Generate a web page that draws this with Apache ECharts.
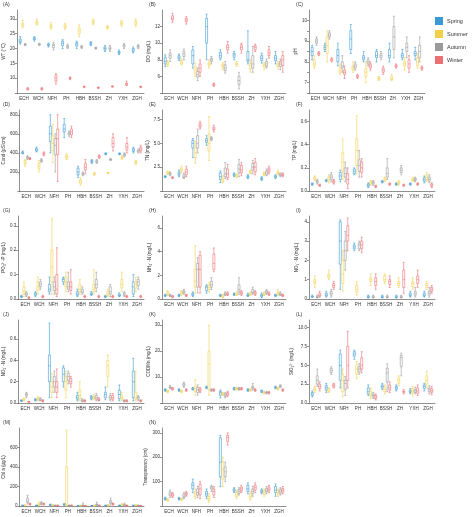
<!DOCTYPE html>
<html><head><meta charset="utf-8">
<script src="https://cdn.jsdelivr.net/npm/echarts@6/dist/echarts.min.js"></script>
<style>html,body{margin:0;padding:0;background:#fff;overflow:hidden}#c{width:474px;height:517px}</style>
</head><body><div id="c"></div>
<script>
const sites=["ECH","WCH","NFH","PH","HBH","BSSH","ZH","YXH","ZGH"];
const seasons=["Spring","Summer","Autumn","Winter"];
const seasonColors=["#3A9AD6","#F2D04A","#9A9A9A","#EE6F73"];
const panelLetters=["A","B","C","D","E","F","G","H","I","J","K","L","M","N"];
const yNames=["WT (°C)","DO (mg/L)","pH","Cond (μS/cm)","TN (mg/L)","TP (mg/L)","PO₄³⁻-P (mg/L)","NH₄⁺-N (mg/L)","NO₃⁻-N (mg/L)","NO₂⁻-N (mg/L)","CODMn (mg/L)","SiO₃²⁻ (mg/L)","Chl a (μg/L)","Transparency (cm)"];
const yMin=[5,4,6.5,0,0,0,0,0,0,0,0,0,0,0];
const yMax=[33,14,10.5,850,8.5,0.7,0.34,7,4.3,0.78,32,11,800,320];
const yInt=[5,2,0.5,200,2.5,0.2,0.1,2,1,0.2,10,2.5,200,100];
const yIntOnly=[false,false,true,false,false,false,false,false,false,false,false,false,false,false];
const yDecimals=[0,0,0,0,1,1,1,0,0,1,0,1,0,0];
const yHideMin=[true,true,false,true,true,false,false,false,false,false,true,false,false,true];

const A_Sp=[[21.5,22,22.5,23.2,24],[22.5,23,23.3,23.7,24],[20.5,21,21.2,21.5,21.8],[20,21,21.8,22.5,23],[20,20.8,21.5,22,22.5],[21,21.3,21.8,22,22.3],[19,19.5,20,20.5,21],[18,18.3,18.7,19,19.5],[18.5,19,19.5,20,20.5]];
const A_Su=[[27,27.5,28,28.5,29.5],[28,28.3,28.8,29.3,30],[26.5,27,27.5,28,28.8],[26.5,27,27.5,28,28.5],[24,25,26,27,28],[28,28.5,29,29.5,30],[26.5,27,27.2,27.5,27.8],[27.5,28,28.5,29,29.5],[27.5,28,28.7,29.3,30]];
const A_Au=[[21,21.2,21.3,21.5,21.7],[21,21.2,21.4,21.6,21.8],[19.5,20.3,21,21.5,22],[20,20.3,20.7,21,21.5],[20,20.3,20.5,20.8,21],[19.8,20,20.2,20.3,20.5],[19,19.5,20,20.5,21],[20,20.5,21,21.3,21.7],[20,20.3,20.7,21,21.3]];
const A_Wi=[[6,6.2,6.4,6.6,6.8],[6,6.2,6.4,6.6,6.8],[8,9,10,11,11.5],[9.5,9.8,10,10.2,10.4],[6.8,7,7.1,7.2,7.3],[6.5,6.7,6.8,6.9,7],[7,7.1,7.2,7.3,7.4],[7.5,7.7,8,8.3,9],[6.8,7,7.1,7.2,7.3]];
const B_Sp=[[7.2,7.5,7.8,8.3,8.6],[7.9,8.1,8.3,8.5,8.7],[7,7.5,8.5,9.2,9.6],[8,10,12,13,13.5],[8,8.2,8.5,8.9,9.2],[8,8.3,8.6,8.8,9],[7.5,7.8,8,9,11.5],[7.6,7.9,8.2,8.5,8.8],[7.5,7.9,8.2,8.5,9]];
const B_Su=[[7.2,7.4,7.5,7.7,7.9],[7.4,7.5,7.7,7.9,8.1],[6,6.4,6.8,7.2,7.6],[7,7.3,7.5,7.7,8],[6.8,7.1,7.3,7.5,7.7],[7.2,7.4,7.5,7.6,7.8],[6.5,6.9,7.3,7.6,8],[6.8,7.1,7.3,7.5,7.7],[6.9,7.2,7.4,7.6,7.8]];
const B_Au=[[7.8,8.2,8.5,8.8,9.2],[8,8.4,8.7,9,9.3],[5.5,5.9,6.2,6.6,7],[7.5,7.8,8,8.2,8.4],[6.4,6.7,7,7.4,7.8],[4.5,5,5.5,6,6.5],[6.5,7,7.5,8.5,9.6],[7,7.2,7.5,7.8,8.1],[6.8,7.2,7.5,7.8,8.1]];
const B_Wi=[[12.5,12.8,13,13.3,13.6],[12.3,12.6,12.8,13,13.2],[6,6.5,7,7.5,8],[4.8,4.9,5,5.1,5.2],[8.8,9.2,9.5,9.8,10.2],[8.8,9.2,9.5,9.8,10],[9,9.2,9.5,9.7,9.9],[8.2,8.5,8.8,9.2,9.6],[6.5,7.3,8,8.5,9]];
const C_Sp=[[8.1,8.3,8.5,8.7,8.8],[8.5,8.6,8.7,8.8,8.9],[7.8,8,8.3,8.6,8.9],[8.4,8.6,9.1,9.5,9.8],[8,8.1,8.2,8.3,8.5],[8,8.2,8.3,8.5,8.6],[8,8.2,8.3,8.6,8.9],[8.1,8.2,8.3,8.4,8.6],[8.1,8.3,8.4,8.5,8.7]];
const C_Su=[[7.7,7.8,7.9,8.1,8.3],[8,8.4,8.8,9.2,9.5],[7.4,7.5,7.6,7.7,7.9],[7.5,7.6,7.7,7.8,8],[7,7.3,7.5,7.7,8],[7.1,7.15,7.2,7.25,7.3],[7.1,7.15,7.2,7.3,7.4],[7.6,7.8,7.9,8,8.2],[7.7,7.8,8,8.2,8.4]];
const C_Au=[[8.8,8.9,9,9.1,9.2],[9.1,9.2,9.3,9.4,9.5],[7.5,7.7,7.8,8,8.3],[7.6,7.7,7.8,7.9,8],[7.8,7.9,8,8.1,8.2],[8.1,8.2,8.3,8.4,8.5],[8.2,8.6,9.2,9.7,10.2],[8.2,8.5,8.7,8.9,9.2],[8,8.2,8.5,8.8,9.2]];
const C_Wi=[[8.3,8.35,8.4,8.45,8.5],[8,8.05,8.1,8.15,8.2],[7.2,7.4,7.5,7.6,7.8],[7.2,7.25,7.3,7.35,7.4],[7.6,7.7,7.8,7.9,8],[7.4,7.5,7.6,7.7,7.8],[7.7,7.75,7.8,7.85,7.9],[7.5,7.7,7.9,8.1,8.3],[7.6,7.65,7.7,7.75,7.8]];
const D_Sp=[[390,395,400,410,420],[410,420,430,445,460],[400,520,600,680,800],[560,620,650,700,760],[140,170,200,240,260],[290,300,310,320,330],[380,385,390,395,400],[380,385,390,395,400],[400,415,430,445,460]];
const D_Su=[[260,280,300,320,330],[200,230,260,290,320],[300,420,500,580,700],[330,345,360,375,390],[60,80,100,120,140],[165,175,180,185,195],[185,188,190,192,195],[330,340,350,360,370],[280,290,300,310,320]];
const D_Au=[[330,340,350,360,370],[300,310,320,330,340],[200,380,480,550,600],[570,590,600,615,630],[160,170,180,190,200],[290,300,310,320,330],[320,325,330,335,340],[360,370,380,390,400],[400,410,420,430,440]];
const D_Wi=[[330,335,340,345,350],[370,380,390,400,410],[100,380,550,650,800],[560,590,620,650,680],[180,220,250,290,330],[340,350,360,370,380],[420,460,500,560,600],[400,430,460,500,560],[400,420,440,460,480]];
const E_Sp=[[1.4,1.45,1.5,1.55,1.6],[1.5,1.65,1.8,2,2.2],[3.5,4.5,5,5.3,5.5],[4.8,5.1,5.3,5.5,5.8],[0.9,1.2,1.5,1.9,2.1],[1.5,1.6,1.7,1.8,1.9],[1.3,1.4,1.5,1.6,1.7],[1.1,1.2,1.3,1.4,1.5],[1.3,1.4,1.5,1.6,1.7]];
const E_Su=[[1.7,1.8,1.9,2,2.1],[1.9,2.1,2.2,2.4,2.6],[2.9,3.5,4,4.6,5.2],[3.2,4.2,5,6,7.8],[0.9,1,1.2,1.4,1.6],[1.4,1.5,1.6,1.7,1.8],[1.8,1.9,2,2.1,2.2],[1.6,1.7,1.8,1.9,2],[1.7,1.8,1.9,2,2.2]];
const E_Au=[[1.6,1.7,1.8,1.9,2],[1.3,1.4,1.5,1.7,1.9],[4,4.5,5,5.8,6.5],[5.3,5.4,5.5,5.6,5.7],[1.3,1.5,1.8,2.4,3],[1.5,1.9,2.3,2.8,3.3],[1.8,2.2,2.5,2.9,3.2],[1.6,1.7,1.9,2.1,2.3],[1.5,1.6,1.7,1.8,1.9]];
const E_Wi=[[1.3,1.35,1.4,1.45,1.5],[1.5,1.7,2,2.3,2.6],[6.5,6.7,6.9,7.1,7.3],[6.2,6.4,6.5,6.7,6.9],[1.2,1.4,1.8,2.3,2.8],[1.6,1.9,2.2,2.7,3],[1.7,2,2.5,3,3.4],[1.8,2,2.2,2.4,2.6],[1.5,1.6,1.7,1.8,1.9]];
const F_Sp=[[.05,.055,.06,.065,.07],[.08,.085,.09,.095,.1],[.08,.1,.13,.16,.18],[.14,.15,.17,.19,.2],[.03,.04,.05,.06,.07],[.07,.075,.08,.085,.09],[.05,.055,.06,.065,.07],[.05,.055,.06,.065,.07],[.07,.085,.1,.115,.13]];
const F_Su=[[.09,.1,.11,.12,.13],[.07,.085,.1,.12,.14],[.1,.17,.25,.33,.45],[.15,.22,.35,.45,.65],[.05,.06,.07,.08,.09],[.08,.09,.1,.11,.12],[.05,.06,.07,.08,.09],[.08,.09,.1,.11,.12],[.08,.1,.12,.14,.16]];
const F_Au=[[.06,.07,.08,.09,.1],[.08,.1,.12,.14,.16],[.08,.12,.15,.2,.25],[.12,.17,.22,.27,.35],[.05,.06,.07,.08,.09],[.1,.12,.15,.2,.28],[.14,.16,.18,.2,.22],[.08,.09,.1,.11,.12],[.07,.085,.1,.12,.14]];
const F_Wi=[[.04,.045,.05,.055,.06],[.06,.07,.08,.09,.1],[.02,.06,.1,.15,.2],[.12,.16,.2,.25,.28],[.03,.035,.04,.045,.05],[.05,.055,.06,.065,.07],[.04,.045,.05,.055,.06],[.05,.055,.06,.065,.07],[.03,.04,.05,.06,.07]];
const G_Sp=[[.005,.008,.01,.012,.015],[.01,.015,.02,.025,.03],[.02,.03,.04,.06,.09],[.06,.07,.08,.085,.09],[.01,.015,.02,.03,.04],[.015,.018,.02,.025,.03],[.005,.008,.01,.012,.015],[.01,.012,.015,.02,.025],[.01,.02,.05,.07,.1]];
const G_Su=[[.01,.02,.03,.05,.07],[.02,.035,.05,.07,.09],[.02,.07,.13,.2,.33],[.03,.05,.07,.09,.11],[.02,.03,.04,.06,.08],[.02,.03,.04,.06,.12],[.01,.015,.02,.03,.04],[.03,.045,.06,.08,.11],[.03,.045,.06,.07,.09]];
const G_Au=[[.01,.015,.02,.025,.03],[.04,.05,.06,.07,.08],[.02,.035,.05,.07,.09],[.03,.04,.05,.07,.11],[.02,.025,.03,.04,.05],[.03,.045,.06,.08,.11],[.01,.02,.03,.05,.06],[.01,.015,.02,.025,.03],[.04,.055,.07,.08,.09]];
const G_Wi=[[.002,.004,.005,.007,.009],[.005,.008,.01,.012,.015],[.01,.02,.04,.1,.21],[.02,.035,.05,.07,.12],[.005,.008,.01,.012,.015],[.005,.008,.01,.012,.015],[.005,.008,.01,.012,.015],[.005,.008,.01,.012,.015],[.005,.008,.01,.012,.015]];
const H_Sp=[[.2,.25,.3,.35,.4],[.2,.25,.3,.35,.4],[.2,.3,.4,.5,.6],[.5,.7,1,1.1,1.2],[.2,.25,.3,.35,.4],[.3,.35,.4,.45,.5],[.2,.25,.3,.4,.5],[.1,.2,.3,.4,.5],[.2,.25,.3,.35,.4]];
const H_Su=[[.3,.4,.5,.6,.7],[.3,.4,.5,.6,.7],[.5,1,1.5,2.5,4.5],[.6,.8,1,1.2,1.4],[.1,.15,.2,.3,.4],[.3,.35,.4,.5,.6],[.3,.35,.4,.5,.6],[.3,.35,.4,.5,.6],[.3,.4,.5,.6,.8]];
const H_Au=[[.2,.25,.3,.35,.4],[.4,.5,.6,.7,.8],[.5,1,2.5,3,3.5],[.8,1,1.2,1.5,1.8],[.3,.35,.4,.5,.6],[.4,.6,.8,1.2,1.8],[.4,.5,.6,.8,1],[.4,.5,.6,.7,.8],[.3,.35,.4,.5,.6]];
const H_Wi=[[.1,.15,.2,.25,.3],[.2,.25,.3,.35,.4],[.5,1,2.5,3.7,4],[2.3,2.5,3,3.8,4.3],[.3,.35,.4,.5,.6],[.3,.4,.5,.6,.7],[.3,.4,.5,.6,.7],[.3,.35,.4,.5,.6],[.2,.25,.3,.35,.4]];
const I_Sp=[[.1,.1,.1,.15,.2],[.1,.15,.2,.3,.4],[.5,1.8,3,4,4.1],[2.5,2.6,2.7,2.8,2.9],[.05,.08,.1,.15,.2],[.05,.08,.1,.15,.2],[.05,.08,.1,.15,.2],[.1,.15,.2,.3,.4],[.1,.15,.2,.3,.4]];
const I_Su=[[.6,.8,.9,1,1.2],[1,1.1,1.2,1.3,1.5],[.4,.8,1.3,2,2.5],[.2,.35,.5,.7,.9],[.7,.9,1,1.1,1.3],[.8,.9,1,1.2,1.3],[.6,.7,.8,.9,1.1],[.5,.65,.8,.9,1.1],[.5,.6,.7,.8,.9]];
const I_Au=[[.05,.08,.1,.15,.2],[.1,.2,.3,.4,.5],[1.5,2,2.5,3,3.5],[2.5,2.6,2.8,2.9,3],[.05,.08,.1,.15,.2],[.05,.08,.1,.15,.2],[.05,.08,.1,.15,.2],[.1,.2,.3,.4,.6],[.1,.2,.3,.4,.6]];
const I_Wi=[[.1,.15,.2,.3,.4],[.5,.6,.7,.8,.9],[2.5,3,3.3,3.8,4.2],[2.4,2.6,2.8,3,3.2],[.5,.7,.9,1.1,1.3],[.6,.75,.9,1,1.2],[.3,.6,1,1.5,1.9],[.6,.8,1,1.2,1.5],[.3,.4,.5,.6,.7]];
const J_Sp=[[.015,.018,.02,.025,.03],[.02,.025,.03,.035,.04],[.05,.2,.35,.45,.75],[.15,.2,.27,.33,.35],[.02,.035,.05,.07,.1],[.03,.04,.05,.06,.07],[.03,.05,.08,.1,.15],[.02,.04,.08,.12,.17],[.02,.05,.2,.3,.42]];
const J_Su=[[.02,.025,.03,.04,.05],[.02,.03,.04,.05,.06],[.05,.1,.15,.2,.28],[.05,.12,.2,.25,.3],[.02,.04,.07,.12,.2],[.03,.04,.05,.06,.08],[.15,.25,.35,.4,.45],[.02,.035,.05,.07,.1],[.02,.035,.05,.1,.3]];
const J_Au=[[.05,.065,.08,.09,.1],[.02,.025,.03,.04,.05],[.1,.15,.2,.25,.3],[.18,.21,.25,.28,.3],[.01,.015,.02,.03,.04],[.02,.035,.05,.07,.09],[.02,.035,.05,.07,.09],[.01,.015,.02,.025,.03],[.02,.035,.05,.06,.07]];
const J_Wi=[[.005,.008,.01,.012,.015],[.01,.015,.02,.025,.03],[.05,.1,.15,.2,.32],[.15,.18,.2,.23,.25],[.01,.015,.02,.025,.03],[.02,.025,.03,.04,.05],[.02,.035,.05,.07,.09],[.01,.015,.02,.025,.03],[.01,.015,.02,.025,.03]];
const K_Sp=[[4.5,4.8,5,5.2,5.5],[4.5,4.8,5,5.2,5.5],[5,5.2,5.5,5.8,6],[5.5,5.8,6,6.2,6.5],[2,3,4,4.5,5],[5,5.2,5.5,5.8,6],[4.5,4.8,5,5.2,5.5],[4,4.2,4.5,4.8,5],[5.5,5.8,6,6.2,6.5]];
const K_Su=[[4,4.2,4.5,4.8,5],[4,4.2,4.5,4.8,5],[3,4.5,5.5,6.5,9],[3,5,15,20,30],[3,3.2,3.5,3.8,4],[5,5.2,5.5,5.8,6],[4.5,4.8,5,5.2,5.5],[3.5,3.8,4,4.2,4.5],[5,5.2,5.5,5.8,6]];
const K_Au=[[5.5,5.8,6,6.3,6.8],[6,6.5,7,7.5,8],[3,4,5,6,7],[4.5,4.8,5,5.2,5.5],[2,2.5,3,3.5,4],[5,5.2,5.5,5.8,6],[5,5.5,6,6.5,7.5],[3.5,3.8,4,4.2,4.5],[6,6.2,6.5,6.8,7]];
const K_Wi=[[5,5.2,5.5,5.8,6],[4.5,4.8,5,5.2,5.5],[4,4.5,5,5.5,6],[4.5,4.8,5,5.2,5.5],[2.5,3,3.5,4,4.5],[5,5.2,5.5,5.8,6],[4.5,4.8,5,5.2,5.5],[3.5,3.8,4,4.2,4.5],[4.5,4.8,5,5.2,5.5]];
const L_Sp=[[.8,1,1.2,1.4,1.6],[1.4,1.7,2,2.3,2.6],[2,3,5,6.5,7],[5.8,6.2,6.5,6.8,7],[1,1.2,1.5,2,2.4],[1.8,2,2.2,2.4,2.6],[1.6,1.8,2,2.2,2.4],[1.2,1.4,1.5,1.7,1.9],[1.6,1.9,2.2,2.4,2.6]];
const L_Su=[[1.4,1.6,1.8,2,2.2],[1.4,1.5,1.7,1.9,2],[.8,1.5,3,3.8,4.5],[3.2,3.8,4.5,5,5.5],[.6,.9,1.2,1.6,2],[1.2,1.5,1.8,2.1,2.4],[2.3,2.6,3,3.3,3.6],[.9,1.3,1.6,1.9,2.2],[2,2.5,3,3.6,4.2]];
const L_Au=[[2.2,2.5,3,3.6,4.5],[3.8,4,4.3,4.6,4.8],[1,1.8,2.6,3,3.5],[3.8,4.1,4.5,4.8,5.2],[.6,.8,1,1.2,1.4],[1.5,2.8,4,4.6,5.2],[3.6,4.8,6,6.3,6.6],[1.2,1.4,1.6,1.8,2.1],[1.2,1.5,1.8,2,2.3]];
const L_Wi=[[1.6,1.9,2.2,2.5,2.8],[2,2.1,2.3,2.5,2.6],[2,3,5,7.5,9.5],[4,4.5,5,6,6.8],[.4,.6,.8,1,1.2],[1.4,1.7,2,2.4,2.8],[1.2,1.4,1.5,1.6,1.8],[1,1.3,1.6,2,2.4],[1.1,1.4,1.6,1.9,2.2]];
const M_Sp=[[2,3,5,7,9],[2,3,5,7,9],[4,7,10,14,20],[8,12,15,20,25],[1,2,3,4,5],[1,2,3,4,5],[2,3,5,7,9],[2,3,5,7,9],[2,3,5,7,9]];
const M_Su=[[2,4,5,8,12],[5,10,15,25,40],[3,5,8,12,18],[0,5,20,400,780],[1,2,3,5,8],[1,2,4,6,10],[2,4,6,9,14],[3,6,10,15,25],[2,4,6,10,15]];
const M_Au=[[20,35,50,80,110],[10,18,25,35,45],[2,3,5,7,9],[2,3,5,7,9],[2,3,5,10,30],[5,10,15,20,40],[10,25,40,55,80],[5,8,10,15,30],[2,3,5,7,9]];
const M_Wi=[[10,15,20,25,30],[10,15,20,25,30],[2,3,5,7,9],[2,3,5,7,9],[1,2,3,4,5],[2,3,5,7,9],[10,15,20,25,30],[2,3,5,7,9],[1,2,3,4,5]];
const N_Sp=[[24,27,30,33,36],[25,28,30,33,35],[55,70,85,95,110],[30,40,50,60,70],[80,120,180,280,290],[55,60,65,70,75],[50,60,70,85,95],[50,55,60,65,70],[40,55,65,80,90]];
const N_Su=[[20,23,25,28,30],[22,25,28,30,33],[30,40,50,60,70],[15,22,30,40,50],[80,110,150,180,200],[30,38,45,55,65],[25,32,40,50,60],[40,48,55,62,70],[40,48,55,62,70]];
const N_Au=[[35,42,50,58,65],[30,35,40,48,55],[35,45,55,70,80],[60,70,75,80,85],[100,120,140,160,180],[45,52,60,68,75],[40,50,60,70,80],[50,58,65,72,80],[45,52,60,68,75]];
const N_Wi=[[35,40,45,50,55],[40,45,50,55,60],[30,45,70,90,100],[35,45,60,70,80],[250,265,280,290,300],[55,62,70,78,85],[55,65,75,85,95],[55,62,70,78,85],[50,57,65,72,80]];

const panelData=[[A_Sp,A_Su,A_Au,A_Wi],[B_Sp,B_Su,B_Au,B_Wi],[C_Sp,C_Su,C_Au,C_Wi],[D_Sp,D_Su,D_Au,D_Wi],[E_Sp,E_Su,E_Au,E_Wi],[F_Sp,F_Su,F_Au,F_Wi],[G_Sp,G_Su,G_Au,G_Wi],[H_Sp,H_Su,H_Au,H_Wi],[I_Sp,I_Su,I_Au,I_Wi],[J_Sp,J_Su,J_Au,J_Wi],[K_Sp,K_Su,K_Au,K_Wi],[L_Sp,L_Su,L_Au,L_Wi],[M_Sp,M_Su,M_Au,M_Wi],[N_Sp,N_Su,N_Au,N_Wi]];

const colLeft=[16,162,309], colW=[128,124,126];
const rowTop=[10,110,216,320,428], rowH=[83,81,83,83,78];
const grids=[],xAxes=[],yAxes=[],series=[],graphics=[];
const lab={fontSize:4.5,color:'#333',fontFamily:'Liberation Sans'};
panelData.forEach((pd,i)=>{
  const r=Math.floor(i/3), c=i%3;
  const w=(i===2)?116:colW[c];
  grids.push({left:colLeft[c],top:rowTop[r],width:w,height:rowH[r]});
  graphics.push({type:'text',left:colLeft[c]-13,top:rowTop[r]-8,style:{text:'('+panelLetters[i]+')',fontSize:5,fill:'#333',fontFamily:'Liberation Sans'}});
  xAxes.push({type:'category',gridIndex:i,data:sites,axisLine:{lineStyle:{color:'#222',width:0.5}},axisTick:{length:2,lineStyle:{width:0.5}},axisLabel:Object.assign({margin:3,interval:0},lab)});
  const io=yIntOnly[i],dec=yDecimals[i],hm=yHideMin[i],mn=yMin[i];
  yAxes.push({type:'value',gridIndex:i,min:mn,max:yMax[i],interval:yInt[i],name:yNames[i],nameLocation:'middle',nameGap:10,nameTextStyle:{fontSize:4.5,color:'#333'},splitLine:{show:false},axisLine:{show:true,lineStyle:{color:'#222',width:0.5}},axisTick:{show:true,length:2,lineStyle:{width:0.5}},
    axisLabel:Object.assign({margin:2,showMaxLabel:false,formatter:v=>{
      if(hm&&Math.abs(v-mn)<1e-9) return ''; if(io&&Math.abs(v-Math.round(v))>1e-9) return ''; return v.toFixed(dec);}},lab)});
  pd.forEach((d,s)=>{
    series.push({type:'boxplot',name:seasons[s],xAxisIndex:i,yAxisIndex:i,data:d,boxWidth:[2,4],
      itemStyle:{color:'#fff',borderColor:seasonColors[s],borderWidth:0.6}});
  });
});
const chart=echarts.init(document.getElementById('c'),null,{renderer:'canvas'});
chart.setOption({animation:false,backgroundColor:'#fff',
  legend:{data:seasons,orient:'vertical',left:430,top:12,itemWidth:6,itemHeight:6,itemGap:5,icon:'rect',
    textStyle:{fontSize:5.5,color:'#333'}},
  grid:grids,xAxis:xAxes,yAxis:yAxes,series:series,graphic:graphics});
</script></body></html>
